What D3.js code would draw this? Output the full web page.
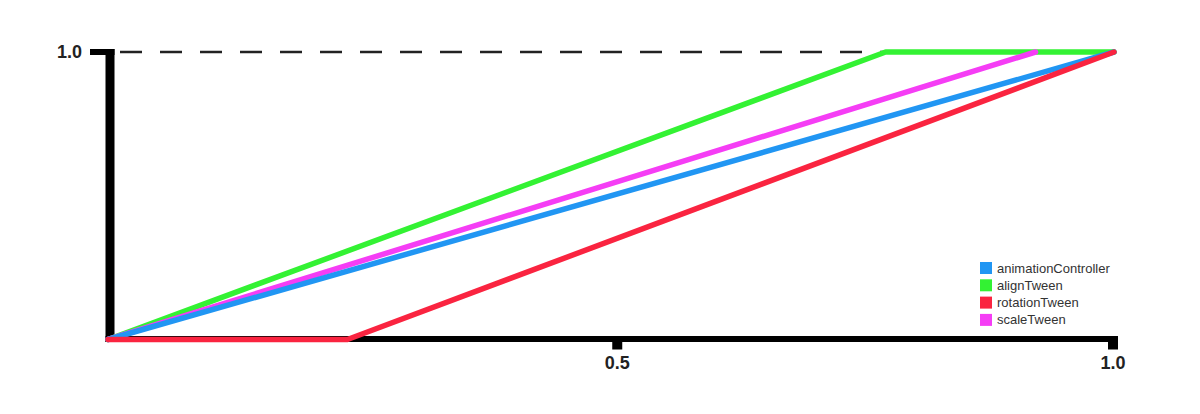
<!DOCTYPE html>
<html>
<head>
<meta charset="utf-8">
<script src="https://cdn.jsdelivr.net/npm/d3@7/dist/d3.min.js"></script>
<style>
  html, body { margin: 0; padding: 0; background: #fff; }
  svg { display: block; }
</style>
</head>
<body>
<svg id="chart" width="1200" height="414"></svg>
<script>
// ---- data ----
const seriesNames = ["animationController", "alignTween", "rotationTween", "scaleTween"];
const seriesColors = ["#2196f3", "#33f233", "#fa2440", "#f53df5"];
const animationController = [[0, 0], [1, 1]];
const alignTween = [[0, 0], [0.773, 1], [1, 1]];
const rotationTween = [[0, 0], [0.238, 0], [1, 1]];
const scaleTween = [[0, 0], [0.922, 1]];
const xTicks = [0.5, 1.0];
const yTicks = [1.0];

const seriesData = {
  animationController, alignTween, rotationTween, scaleTween
};
const drawOrder = ["alignTween", "scaleTween", "animationController", "rotationTween"];

const svg = d3.select("#chart");
const x = d3.scaleLinear().domain([0, 1]).range([108, 1114]);
const xTickScale = d3.scaleLinear().domain([0, 1]).range([121.5, 1113]);
const y = d3.scaleLinear().domain([0, 1]).range([339.5, 52]);

// dashed reference line at 1.0
svg.append("line")
  .attr("x1", 120).attr("x2", x(1))
  .attr("y1", y(1)).attr("y2", y(1))
  .attr("stroke", "#222").attr("stroke-width", 2.5)
  .attr("stroke-dasharray", "22 18");

// y axis
svg.append("line")
  .attr("x1", 110).attr("x2", 110)
  .attr("y1", y(1) - 3).attr("y2", y(0) + 2.5)
  .attr("stroke", "#000").attr("stroke-width", 9);
yTicks.forEach(t => {
  svg.append("line")
    .attr("x1", 90).attr("x2", 114.5)
    .attr("y1", y(t)).attr("y2", y(t))
    .attr("stroke", "#000").attr("stroke-width", 6);
  svg.append("text")
    .attr("x", 82).attr("y", y(t))
    .attr("text-anchor", "end").attr("dominant-baseline", "central")
    .attr("font-family", "Liberation Sans, Arial, sans-serif")
    .attr("font-weight", "bold").attr("font-size", 18)
    .attr("fill", "#222")
    .text(d3.format(".1f")(t));
});

// x axis
svg.append("line")
  .attr("x1", 105.5).attr("x2", 1118)
  .attr("y1", 339).attr("y2", 339)
  .attr("stroke", "#000").attr("stroke-width", 6);
xTicks.forEach(t => {
  const cx = xTickScale(t);
  svg.append("rect")
    .attr("x", cx - 5).attr("y", 339).attr("width", 10).attr("height", 10.5)
    .attr("fill", "#000");
  svg.append("text")
    .attr("x", cx).attr("y", 369)
    .attr("text-anchor", "middle")
    .attr("font-family", "Liberation Sans, Arial, sans-serif")
    .attr("font-weight", "bold").attr("font-size", 18)
    .attr("fill", "#222")
    .text(d3.format(".1f")(t));
});

// series lines
const line = d3.line().x(d => x(d[0])).y(d => y(d[1]));
drawOrder.forEach(name => {
  const i = seriesNames.indexOf(name);
  svg.append("path")
    .datum(seriesData[name])
    .attr("d", line)
    .attr("fill", "none")
    .attr("stroke", seriesColors[i])
    .attr("stroke-width", 5.5)
    .attr("stroke-linecap", "round")
    .attr("stroke-linejoin", "round");
});

// legend
const legend = svg.append("g").attr("transform", "translate(980,262)");
seriesNames.forEach((name, i) => {
  const g = legend.append("g").attr("transform", `translate(0,${i * 17.3})`);
  g.append("rect").attr("width", 12).attr("height", 12).attr("fill", seriesColors[i]);
  g.append("text")
    .attr("x", 17).attr("y", 6)
    .attr("dominant-baseline", "central")
    .attr("font-family", "Liberation Sans, Arial, sans-serif")
    .attr("font-size", 13)
    .attr("fill", "#333")
    .text(name);
});
</script>
</body>
</html>
